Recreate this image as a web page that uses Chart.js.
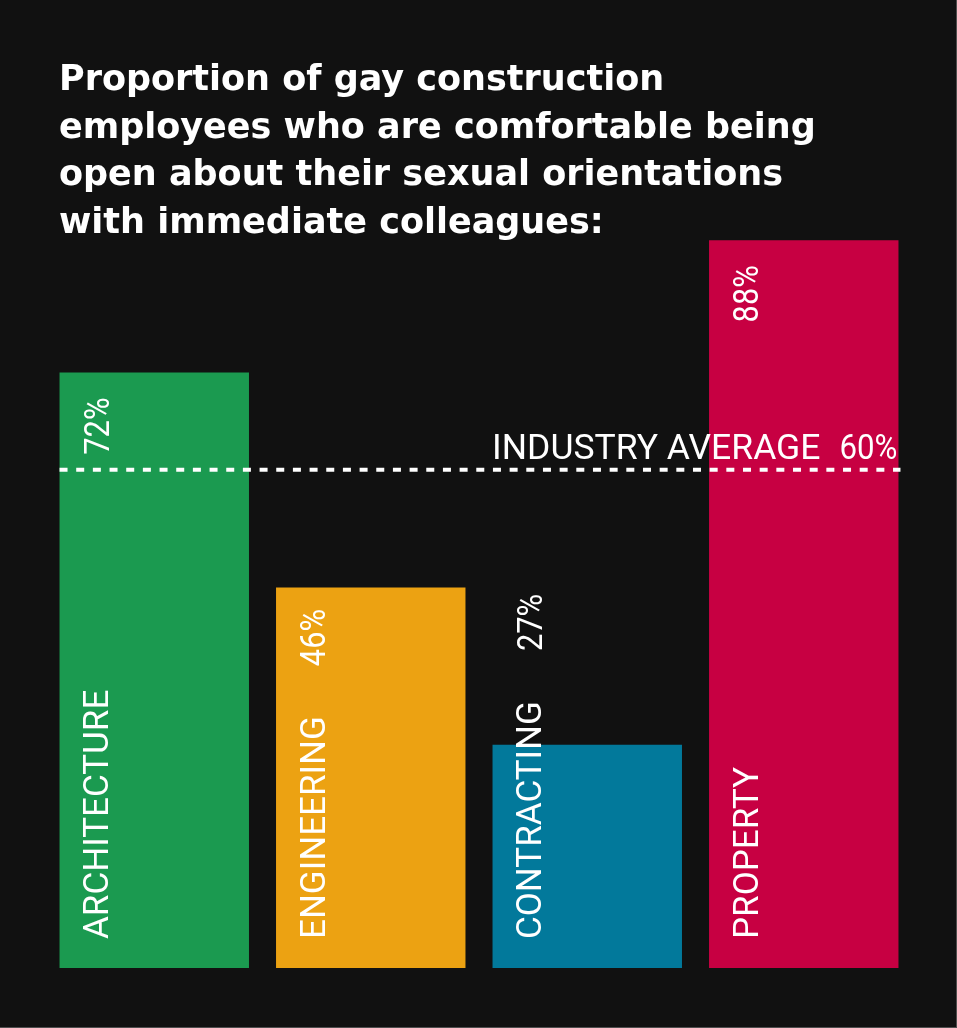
<!DOCTYPE html>
<html>
<head>
<meta charset="utf-8">
<script src="https://cdn.jsdelivr.net/npm/chart.js@4/dist/chart.umd.min.js"></script>
<style>
  html, body { margin: 0; padding: 0; background: #111111; }
  #wrap { width: 956px; height: 1027px; border-right: 1px solid #4f4f4f; border-bottom: 1px solid #4f4f4f; background: #111111; }
  canvas { display: block; background: #111111; }
</style>
</head>
<body>
<div id="wrap"><canvas id="c" width="956" height="1027"></canvas></div>
<script>
const titleLines = [
  'Proportion of gay construction',
  'employees who are comfortable being',
  'open about their sexual orientations',
  'with immediate colleagues:'
];
const categories = ['ARCHITECTURE', 'ENGINEERING', 'CONTRACTING', 'PROPERTY'];
const values = [72, 46, 27, 88];
const barColors = ['#1b9a50', '#eca212', '#02799b', '#c70042'];
const averageValue = 60;
const averageLabel = 'INDUSTRY AVERAGE';
const yMin = 0;
const yMax = 100;

const labelFont = '35px Roboto';
const numCondense = 0.88;

const overlayPlugin = {
  id: 'overlay',
  afterDatasetsDraw(chart) {
    const ctx = chart.ctx;
    const meta = chart.getDatasetMeta(0);
    const yScale = chart.scales.y;

    // Title
    ctx.save();
    ctx.fillStyle = '#ffffff';
    ctx.font = 'bold 35px "DejaVu Sans"';
    ctx.textAlign = 'left';
    ctx.textBaseline = 'alphabetic';
    titleLines.forEach((t, i) => ctx.fillText(t, 59, 90 + i * 47.5));
    ctx.restore();

    // Bar labels
    meta.data.forEach((bar, i) => {
      const left = bar.x - bar.width / 2;
      const baseX = left + 48.5;
      const bottomY = bar.base - 29;
      ctx.save();
      ctx.fillStyle = '#ffffff';
      ctx.font = labelFont;
      ctx.textBaseline = 'alphabetic';
      const catW = ctx.measureText(categories[i]).width;
      ctx.save();
      ctx.translate(baseX, bottomY);
      ctx.rotate(-Math.PI / 2);
      ctx.textAlign = 'left';
      ctx.fillText(categories[i], 0, 0);
      ctx.restore();
      const txt = values[i] + '%';
      const valW = ctx.measureText(txt).width * numCondense;
      const catTop = bottomY - catW;
      let endY = bar.y + 25;
      if (endY + valW > catTop - 47) endY = catTop - 50 - valW;
      ctx.save();
      ctx.translate(baseX + 0.5, endY);
      ctx.rotate(-Math.PI / 2);
      ctx.scale(numCondense, 1);
      ctx.textAlign = 'right';
      ctx.fillText(txt, 0, 0);
      ctx.restore();
      ctx.restore();
    });

    // Industry average dashed line
    const first = meta.data[0];
    const last = meta.data[meta.data.length - 1];
    const x0 = first.x - first.width / 2;
    const x1 = last.x + last.width / 2 + 2;
    const yAvg = yScale.getPixelForValue(averageValue) - 2;
    ctx.save();
    ctx.strokeStyle = '#ffffff';
    ctx.lineWidth = 4;
    ctx.setLineDash([8, 8.67]);
    ctx.beginPath();
    ctx.moveTo(x0, yAvg);
    ctx.lineTo(x1, yAvg);
    ctx.stroke();
    ctx.restore();

    ctx.save();
    ctx.fillStyle = '#ffffff';
    ctx.textBaseline = 'alphabetic';
    ctx.font = '35.5px Roboto';
    const pct = averageValue + '%';
    const pctW = ctx.measureText(pct).width * numCondense;
    const rightX = x1 - 3;
    ctx.save();
    ctx.translate(rightX - pctW, yAvg - 11);
    ctx.scale(numCondense, 1);
    ctx.textAlign = 'left';
    ctx.fillText(pct, 0, 0);
    ctx.restore();
    ctx.textAlign = 'right';
    ctx.fillText(averageLabel, rightX - pctW - 19, yAvg - 11);
    ctx.restore();
  }
};

new Chart(document.getElementById('c'), {
  type: 'bar',
  data: {
    labels: categories,
    datasets: [{
      data: values,
      backgroundColor: barColors,
      borderWidth: 0,
      barPercentage: 0.875,
      categoryPercentage: 1.0
    }]
  },
  options: {
    responsive: false,
    animation: false,
    devicePixelRatio: 1,
    layout: { padding: { left: 46, right: 44, top: 141, bottom: 59 } },
    plugins: { legend: { display: false }, tooltip: { enabled: false }, title: { display: false } },
    scales: {
      x: { display: false },
      y: { display: false, min: yMin, max: yMax }
    }
  },
  plugins: [overlayPlugin]
});
</script>
</body>
</html>
